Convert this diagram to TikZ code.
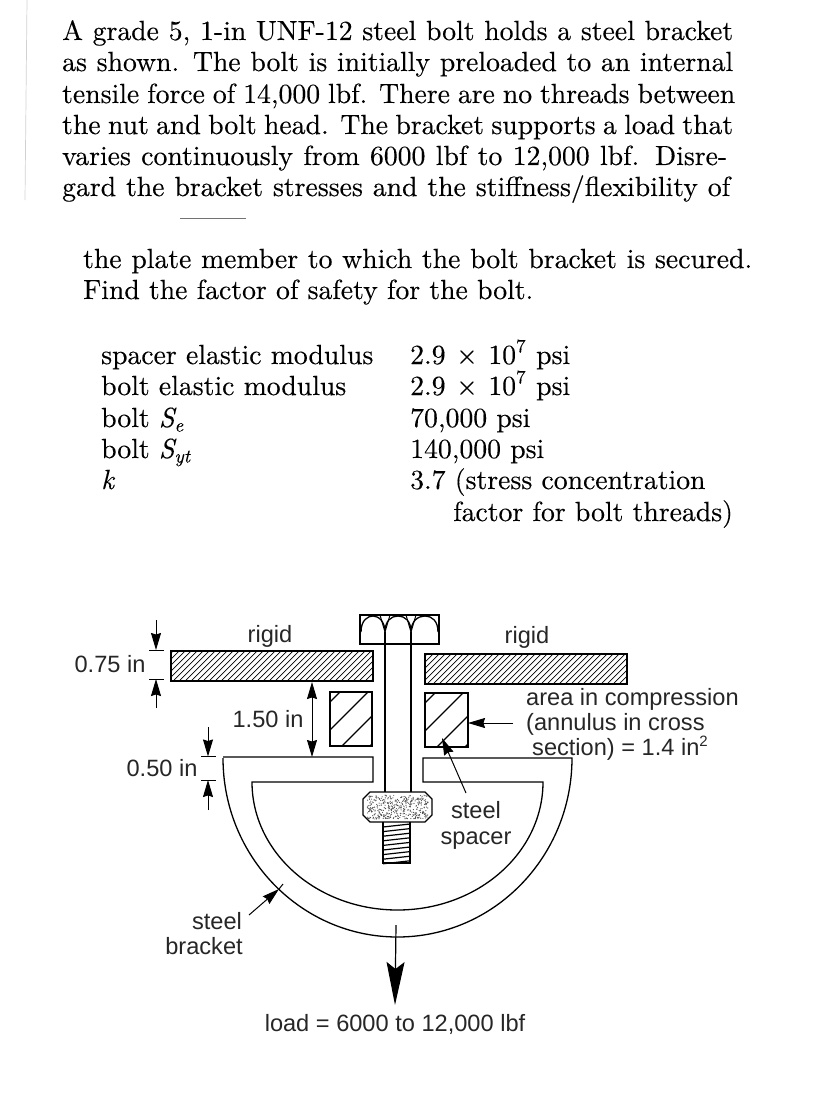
\documentclass[tikz,border=0pt]{standalone}
\usepackage{fontspec}
\usetikzlibrary{arrows.meta}
\setmainfont{lmroman10-regular}[Extension=.otf,FakeBold=0.25]
\newfontfamily\bodyit{lmroman10-italic}[Extension=.otf,FakeBold=0.25]
\newfontfamily\labfont{Liberation Sans}
\newcommand{\supsev}{\raisebox{0.42em}{\fontsize{19}{19}\selectfont 7}}
\newcommand{\subit}[1]{\raisebox{-0.16em}{\fontsize{19}{19}\bodyit #1}}
\newcommand{\fullline}[2]{\makebox[#1pt][s]{#2}}
\tikzset{
  x=1pt,y=-1pt,
  body/.style={anchor=base west,inner sep=0pt,font=\fontsize{27.7}{30}\selectfont},
  lab/.style={anchor=base,inner sep=0pt,align=center,font=\labfont\fontsize{23.6}{25}\selectfont,text=black!85},
  outline/.style={draw=black,line width=1.3pt},
  hatch/.style={draw=black,line width=0.8pt},
  dimarrow/.style={draw=black,line width=1pt,-{Stealth[length=17pt,width=10pt,inset=1.5pt]}},
  tick/.style={draw=black,line width=1pt},
}
\begin{document}
\begin{tikzpicture}
\useasboundingbox (0,0) rectangle (812,1102);
% problem text
\node[body] (t1) at (62,40) {\fullline{671}{A grade 5, 1-in UNF-12 steel bolt holds a steel bracket}};
\node[body] (t2) at (62,71) {\fullline{671}{as shown. The bolt is initially preloaded to an internal}};
\node[body] (t3) at (62,103) {\fullline{673}{tensile force of 14,000 lbf. There are no threads between}};
\node[body] (t4) at (62,134) {\fullline{671}{the nut and bolt head. The bracket supports a load that}};
\node[body] (t5) at (62,165) {\fullline{665}{varies continuously from 6000 lbf to 12,000 lbf. Disre-}};
\node[body] (t6) at (62,196) {\fullline{668}{gard the bracket stresses and the stiffness/flexibility of}};
\draw[black!55,line width=0.7pt] (180,218) -- (246,218);
\draw[black!18,line width=0.7pt] (27,0) -- (25,200);
\node[body] (t7) at (83,268) {\fullline{669}{the plate member to which the bolt bracket is secured.}};
\node[body] (t8) at (83,299) {Find the factor of safety for the bolt.};
% table
\node[body] (r1) at (101,364) {spacer elastic modulus};
\node[body] (r2) at (101,395) {bolt elastic modulus};
\node[body] (r3) at (101,427) {bolt {\bodyit S}\subit{e}};
\node[body] (r4) at (101,458) {bolt {\bodyit S}\subit{yt}};
\node[body] (r5) at (101,489) {{\bodyit k}};
\node[body] (v1) at (410,364) {\fullline{160}{2.9 × 10\supsev\ psi}};
\node[body] (v2) at (410,395) {\fullline{160}{2.9 × 10\supsev\ psi}};
\node[body] (v3) at (410,427) {70,000 psi};
\node[body] (v4) at (410,458) {140,000 psi};
\node[body] (v5) at (410,489) {3.7 (stress concentration};
\node[body] (v6) at (453,521) {factor for bolt threads)};
% plates
\foreach \xa/\xb/\ya/\yb in {171/373/651/681,425/627/654/684}{
  \begin{scope}
    \clip (\xa,\ya) rectangle (\xb,\yb);
    \foreach \k in {0,6,...,270}{
      \draw[hatch,line width=0.7pt] (\xa+\k-40,\yb) -- (\xa+\k-10,\ya);
    }
  \end{scope}
  \draw[outline] (\xa,\ya) rectangle (\xb,\yb);
}
% spacers
\foreach \xa/\xb/\ya/\yb in {330/372/692/746,425/468/693/747}{
  \begin{scope}
    \clip (\xa,\ya) rectangle (\xb,\yb);
    \foreach \k in {-44,-16,12,40}{
      \draw[hatch,line width=1.2pt] (\xa+\k,\yb) -- (\xa+\k+54,\ya);
    }
  \end{scope}
  \draw[outline] (\xa,\ya) rectangle (\xb,\yb);
}
% bolt head
\draw[outline] (360,615) rectangle (439,644);
\draw[outline] (361,632) .. controls (361,620) and (368,616) .. (373,616) .. controls (379,616) and (385,622) .. (385,632)
  .. controls (385,621) and (391,616) .. (398,616) .. controls (405,616) and (411,621) .. (411,632)
  .. controls (411,621) and (418,616) .. (425,616) .. controls (432,616) and (438,621) .. (438,632);
\draw[outline,line width=1pt] (380,615) -- (385,632) -- (390,615) (406,615) -- (411,632) -- (416,615);
% bolt shaft
\draw[outline] (385,632) -- (385,792) (411,632) -- (411,792);
% bracket
\draw[outline] (223,757) -- (373,757) -- (373,782) -- (252,782)
  arc[start angle=180,end angle=360,x radius=145.5,y radius=-128]
  -- (423,782) -- (423,758) -- (572,758)
  arc[start angle=0,end angle=180,x radius=174.5,y radius=179];
% nut
\draw[outline] (370,792) -- (425,792) -- (432,799) -- (432,815) -- (425,822) -- (370,822) -- (363,815) -- (363,799) -- cycle;
\pgfmathsetseed{12}
\foreach \i in {1,...,420}{
  \pgfmathsetmacro{\px}{367+rnd*61}
  \pgfmathsetmacro{\py}{795+rnd*24}
  \fill[black!70] (\px,\py) circle (0.6pt);
}
% thread
\draw[outline] (383,822) -- (383,863) -- (410,863) -- (410,822);
\foreach \k in {0,1,...,8}{
  \draw[hatch,line width=1.2pt] (383,827+\k*4.6) -- (410,824+\k*4.6);
}
% labels
\node[lab] (rigidL) at (270,642) {rigid};
\node[lab] (rigidR) at (527,643) {rigid};
\node[lab] (d75) at (110,672) {0.75 in};
\node[lab] (d150) at (268,727) {1.50 in};
\node[lab] (d50) at (162,776) {0.50 in};
\node[lab,anchor=base west] (area1) at (526,705) {area in compression};
\node[lab,anchor=base west] (area2) at (526,730) {(annulus in cross};
\node[lab,anchor=base west] (area3) at (532,755) {section) = 1.4 in\raisebox{0.38em}{\fontsize{15}{15}\selectfont 2}};
\node[lab] (sp1) at (476,818) {steel};
\node[lab] (sp2) at (476,844) {spacer};
\node[lab] (br1) at (217,929) {steel};
\node[lab] (br2) at (204,954) {bracket};
\node[lab] (load) at (395,1031) {load = 6000 to 12,000 lbf};
% dimension ticks and arrows
\coordinate (a1) at (156,620); \coordinate (a2) at (156,650);
\coordinate (a3) at (156,708); \coordinate (a4) at (156,679);
\coordinate (b1) at (208,727); \coordinate (b2) at (208,756.5);
\coordinate (b3) at (208,810); \coordinate (b4) at (208,780);
\coordinate (c1) at (312,682); \coordinate (c2) at (312,757);
\draw[tick] (149,650) -- (164,650) (149,679) -- (164,679) (201,756.5) -- (216,756.5) (201,780) -- (216,780);
\draw[dimarrow] (a1) -- (a2);
\draw[dimarrow] (a3) -- (a4);
\draw[dimarrow] (b1) -- (b2);
\draw[dimarrow] (b3) -- (b4);
\draw[dimarrow,{Stealth[length=17pt,width=10pt,inset=1.5pt]}-{Stealth[length=17pt,width=10pt,inset=1.5pt]}] (c1) -- (c2);
\coordinate (e1) at (513,723); \coordinate (e2) at (468,723);
\draw[dimarrow] (e1) -- (e2);
\coordinate (f1) at (466,793); \coordinate (f2) at (442,738);
\draw[dimarrow] (f1) -- (f2);
\coordinate (g1) at (249,915); \coordinate (g2) at (279,889); \coordinate (g3) at (283,884);
\draw[dimarrow] (g1) -- (g2);
\draw[tick] (g2) -- (g3);
\coordinate (h1) at (396,925); \coordinate (h2) at (395,1005);
\draw[draw=black,line width=1.2pt,-{Stealth[length=43pt,width=18pt,inset=7pt]}] (h1) -- (h2);
\end{tikzpicture}
\end{document}
